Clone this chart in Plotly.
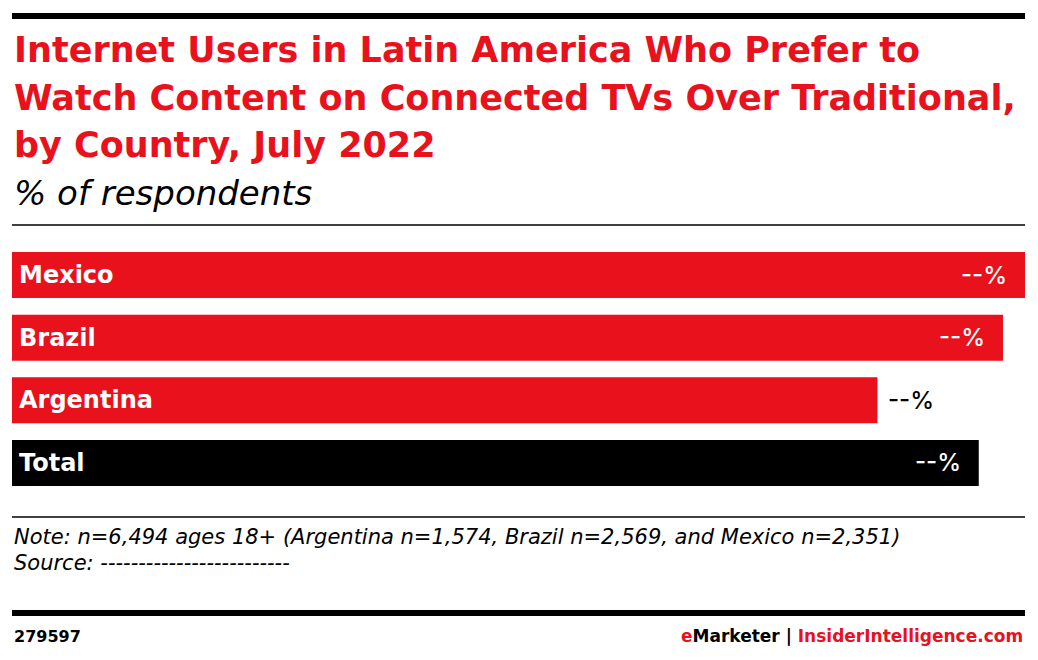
import plotly.graph_objects as go

# chart data
countries = ["Mexico", "Brazil", "Argentina", "Total"]
values = [46.0, 45.0, 39.3, 43.9]
value_labels = ["--%", "--%", "--%", "--%"]
bar_colors = ["#E8111C", "#E8111C", "#E8111C", "#000000"]

title_lines = ["Internet Users in Latin America Who Prefer to",
               "Watch Content on Connected TVs Over Traditional,",
               "by Country, July 2022"]
subtitle = "% of respondents"
note = "Note: n=6,494 ages 18+ (Argentina n=1,574, Brazil n=2,569, and Mexico n=2,351)"
source = "Source: -------------------------"
chart_id = "279597"

# the page has an 8px body margin, so the figure sits at (8, 8)
W, H = 1022, 644
OFF = 8
RED = "#E8111C"


def px(x):
    # page pixel column -> paper x
    return (x - OFF) / W


def py(y):
    # page pixel row -> paper y
    return 1 - (y - OFF) / H


fig = go.Figure(go.Bar(
    y=countries,
    x=values,
    orientation="h",
    marker=dict(color=bar_colors, line=dict(width=0)),
    width=0.736,
    hoverinfo="skip",
))

annotations = []
for c, v, lab in zip(countries, values, value_labels):
    annotations.append(dict(
        x=0, y=c, xref="x", yref="y", text="<b>%s</b>" % c,
        showarrow=False, xanchor="left", xshift=5,
        font=dict(family="DejaVu Sans", size=24, color="white"),
    ))
    inside = v > 42
    annotations.append(dict(
        x=v, y=c, xref="x", yref="y", text=lab, showarrow=False,
        xanchor="right" if inside else "left",
        xshift=-16 if inside else 9,
        font=dict(family="Inter", size=24, weight=500,
                  color="white" if inside else "black"),
    ))

# title, one annotation per line for exact line pitch
for i, line in enumerate(title_lines):
    annotations.append(dict(
        x=px(12), y=py(50 + 47.5 * i), xref="paper", yref="paper",
        text="<b>%s</b>" % line, showarrow=False,
        xanchor="left", yanchor="middle",
        font=dict(family="DejaVu Sans", size=35, color=RED)))

annotations += [
    dict(x=px(12), y=py(193), xref="paper", yref="paper", text="<i>%s</i>" % subtitle,
         showarrow=False, xanchor="left", yanchor="middle",
         font=dict(family="DejaVu Sans", size=34, color="black")),
    dict(x=px(12), y=py(537), xref="paper", yref="paper", text="<i>%s</i>" % note,
         showarrow=False, xanchor="left", yanchor="middle",
         font=dict(family="DejaVu Sans", size=21, color="black")),
    dict(x=px(12), y=py(563), xref="paper", yref="paper", text="<i>%s</i>" % source,
         showarrow=False, xanchor="left", yanchor="middle",
         font=dict(family="DejaVu Sans", size=21, color="black")),
    dict(x=px(12), y=py(636), xref="paper", yref="paper", text="<b>%s</b>" % chart_id,
         showarrow=False, xanchor="left", yanchor="middle",
         font=dict(family="DejaVu Sans", size=16, color="black")),
    dict(x=px(1025), y=py(636), xref="paper", yref="paper",
         text="<b><span style='color:%s'>e</span>Marketer | "
              "<span style='color:%s'>InsiderIntelligence.com</span></b>" % (RED, RED),
         showarrow=False, xanchor="right", yanchor="middle",
         font=dict(family="DejaVu Sans", size=17, color="black")),
]

shapes = [
    dict(type="rect", xref="paper", yref="paper", x0=px(12), x1=px(1025),
         y0=py(19), y1=py(13), fillcolor="black", line=dict(width=0)),
    dict(type="line", xref="paper", yref="paper", x0=px(12), x1=px(1025),
         y0=py(225), y1=py(225), line=dict(color="black", width=1.5)),
    dict(type="line", xref="paper", yref="paper", x0=px(12), x1=px(1025),
         y0=py(517), y1=py(517), line=dict(color="black", width=1.5)),
    dict(type="rect", xref="paper", yref="paper", x0=px(12), x1=px(1025),
         y0=py(616), y1=py(610), fillcolor="black", line=dict(width=0)),
]

fig.update_layout(
    width=W, height=H,
    margin=dict(l=0, r=0, t=0, b=0),
    paper_bgcolor="white", plot_bgcolor="white",
    showlegend=False,
    xaxis=dict(domain=[px(12), px(1025)], range=[0, max(values)],
               visible=False, fixedrange=True),
    yaxis=dict(domain=[py(494.25), py(243.75)], range=[3.5, -0.5],
               visible=False, fixedrange=True),
    annotations=annotations,
    shapes=shapes,
)

fig.write_html("out.html")
